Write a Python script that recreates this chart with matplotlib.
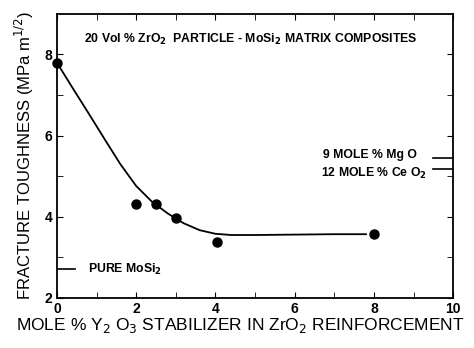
import numpy as np
import matplotlib.pyplot as plt

plt.rcParams['font.family'] = ['Liberation Sans', 'DejaVu Sans']

# measured toughness vs Y2O3 content
y2o3_mole = [0, 2, 2.5, 3, 4.05, 8]
toughness = [7.78, 4.31, 4.31, 3.98, 3.37, 3.57]

# hand-drawn trend line through the data
fit_x = [0, 0.4, 0.8, 1.2, 1.6, 2.0, 2.4, 2.8, 3.2, 3.6, 4.0, 4.4, 5.0, 6.0, 7.0, 7.8]
fit_y = [7.8, 7.17, 6.55, 5.92, 5.3, 4.76, 4.37, 4.08, 3.84, 3.67, 3.58, 3.55, 3.55, 3.56, 3.57, 3.57]

# reference levels
pure_mosi2 = 2.71
mgo_level = 5.44
ceo2_level = 5.17

fig = plt.figure(figsize=(4.74, 3.48), dpi=100)
ax = fig.add_axes([0.120, 0.144, 0.836, 0.816])

ax.plot(fit_x, fit_y, color='black', lw=1.3, solid_joinstyle='round')
ax.plot(y2o3_mole, toughness, 'o', color='black', ms=6.5, clip_on=False, zorder=5)

# short level markers on the spines
ax.plot([0, 0.45], [pure_mosi2, pure_mosi2], color='black', lw=1.2)
ax.plot([9.5, 10], [mgo_level, mgo_level], color='black', lw=1.2)
ax.plot([9.5, 10], [ceo2_level, ceo2_level], color='black', lw=1.2)

note = dict(fontsize=8.8, fontweight='bold', va='center')
ax.text(0.78, pure_mosi2, 'PURE MoSi$_\\mathbf{2}$', ha='left', **note)
ax.text(9.09, 5.51, '9 MOLE % Mg O', ha='right', **note)
ax.text(9.34, 5.07, '12 MOLE % Ce O$_\\mathbf{2}$', ha='right', **note)
ax.text(4.9, 8.36, '20 Vol % ZrO$_\\mathbf{2}$  PARTICLE - MoSi$_\\mathbf{2}$ MATRIX COMPOSITES',
        ha='center', **note)

ax.set_xlim(0, 10)
ax.set_ylim(2, 9)
ax.set_xticks([0, 2, 4, 6, 8, 10])
ax.set_yticks([2, 4, 6, 8])
ax.set_xticks(np.arange(1, 10, 2), minor=True)
ax.set_yticks([3, 5, 7], minor=True)
ax.tick_params(which='both', direction='in', top=True, right=True, length=4, labelsize=10)
ax.tick_params(axis='x', pad=3)
for lab in ax.get_xticklabels() + ax.get_yticklabels():
    lab.set_fontweight('bold')

for s in ax.spines.values():
    s.set_linewidth(1.3)

ax.set_xlabel('MOLE % Y$_2$ O$_3$ STABILIZER IN ZrO$_2$ REINFORCEMENT', fontsize=12.5)
ax.xaxis.set_label_coords((240 - 57) / 396, -0.065)
ax.set_ylabel('FRACTURE TOUGHNESS (MPa m$^{1/2}$)', fontsize=12)
ax.yaxis.set_label_coords(-0.053, 0.5)

fig.savefig('out.png', dpi=100)
